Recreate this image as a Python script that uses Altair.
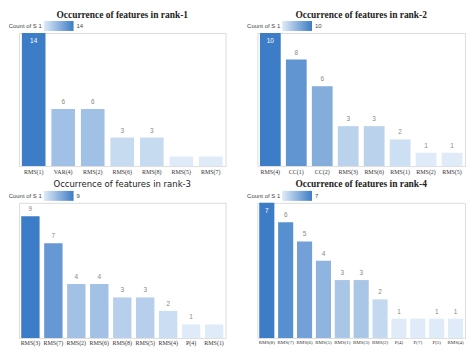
import altair as alt
import pandas as pd

# ---- data ----
rank1_features = ["RMS(1)", "VAR(4)", "RMS(2)", "RMS(6)", "RMS(8)", "RMS(5)", "RMS(7)"]
rank1_counts = [14, 6, 6, 3, 3, 1, 1]
rank1_show = [True, True, True, True, True, False, False]
rank1_inside = [True, False, False, False, False, False, False]

rank2_features = ["RMS(4)", "CC(1)", "CC(2)", "RMS(3)", "RMS(6)", "RMS(1)", "RMS(2)", "RMS(5)"]
rank2_counts = [10, 8, 6, 3, 3, 2, 1, 1]
rank2_show = [True] * 8
rank2_inside = [True, False, False, False, False, False, False, False]

rank3_features = ["RMS(3)", "RMS(7)", "RMS(2)", "RMS(6)", "RMS(8)", "RMS(5)", "RMS(4)", "P(4)", "RMS(1)"]
rank3_counts = [9, 7, 4, 4, 3, 3, 2, 1, 1]
rank3_show = [True, True, True, True, True, True, True, True, False]
rank3_inside = [False] * 9

rank4_features = ["RMS(8)", "RMS(7)", "RMS(6)", "RMS(5)", "RMS(1)", "RMS(3)", "RMS(2)", "P(4)", "P(7)", "P(5)", "RMS(4)"]
rank4_counts = [7, 6, 5, 4, 3, 3, 2, 1, 1, 1, 1]
rank4_show = [True, True, True, True, True, True, True, True, False, True, True]
rank4_inside = [True] + [False] * 10

titles = ["Occurrence of features in rank-1", "Occurrence of features in rank-2",
          "Occurrence of features in rank-3", "Occurrence of features in rank-4"]

LIGHT = "#dfebf8"
DARK = "#3d7cc6"


def panel(title, features, counts, show, inside, ymax, width, height, tfont, tweight, lsize):
    df = pd.DataFrame({"feature": features, "count": counts, "show": show, "inside": inside})
    base = alt.Chart(df)
    x = alt.X("feature:N", sort=None, title=None,
              scale=alt.Scale(paddingInner=0.2, paddingOuter=0.1),
              axis=alt.Axis(labelAngle=0, domain=False, ticks=False, labelFontSize=lsize,
                            labelPadding=2, labelColor="#333", labelFont="Liberation Serif",
                            labelLimit=40))
    y = alt.Y("count:Q", scale=alt.Scale(domain=[0, ymax]), axis=None)
    bars = base.mark_bar().encode(
        x=x, y=y,
        color=alt.Color("count:Q", legend=None,
                        scale=alt.Scale(domain=[min(counts), max(counts)],
                                        range=[LIGHT, DARK], interpolate="rgb")))
    out_txt = base.transform_filter("datum.show && !datum.inside").mark_text(
        baseline="bottom", dy=-4, fontSize=6.5, color="#888", font="Liberation Sans"
    ).encode(x=alt.X("feature:N", sort=None), y=y, text="count:Q")
    in_txt = base.transform_filter("datum.show && datum.inside").mark_text(
        baseline="top", dy=5, fontSize=6.5, color="white", font="Liberation Sans"
    ).encode(x=alt.X("feature:N", sort=None), y=y, text="count:Q")

    leg = base.transform_aggregate(mn="min(count)", mx="max(count)")
    leg_title = leg.transform_calculate(t="'Count of S ' + datum.mn").mark_text(
        align="right", baseline="middle", fontSize=6, color="#444", font="Liberation Sans"
    ).encode(x=alt.value(23), y=alt.value(-7), text="t:N")
    grad = leg.mark_rect(
        color=alt.Gradient(gradient="linear",
                           stops=[alt.GradientStop(color=LIGHT, offset=0),
                                  alt.GradientStop(color=DARK, offset=1)],
                           x1=0, x2=1, y1=0, y2=0)
    ).encode(x=alt.value(25), x2=alt.value(55), y=alt.value(-12), y2=alt.value(-2))
    leg_max = leg.mark_text(
        align="left", baseline="middle", fontSize=6, color="#444", font="Liberation Sans"
    ).encode(x=alt.value(58), y=alt.value(-7), text="mx:Q")

    return alt.layer(bars, out_txt, in_txt, leg_title, grad, leg_max).properties(
        width=width, height=height,
        title=alt.TitleParams(title, fontSize=9.5, font=tfont, fontWeight=tweight,
                              anchor="middle", offset=2, color="#222"))


p1 = panel(titles[0], rank1_features, rank1_counts, rank1_show, rank1_inside, 14, 208, 134,
           "Liberation Serif", "bold", 6)
p2 = panel(titles[1], rank2_features, rank2_counts, rank2_show, rank2_inside, 10, 209, 134,
           "Liberation Serif", "bold", 6)
p3 = panel(titles[2], rank3_features, rank3_counts, rank3_show, rank3_inside, 10, 208, 136,
           "DejaVu Sans Condensed", "normal", 6)
p4 = panel(titles[3], rank4_features, rank4_counts, rank4_show, rank4_inside, 7, 209, 136,
           "Liberation Serif", "bold", 5)

chart = alt.vconcat(
    alt.hconcat(p1, p2, spacing=20).resolve_scale(color="independent", y="independent"),
    alt.hconcat(p3, p4, spacing=20).resolve_scale(color="independent", y="independent"),
    spacing=4,
).resolve_scale(color="independent", y="independent").properties(
    padding={"left": 0, "top": 0, "right": 0, "bottom": 0}
).configure_view(stroke=None).configure(background="white")

chart.save("out.html", embed_options={"renderer": "svg", "actions": False})
